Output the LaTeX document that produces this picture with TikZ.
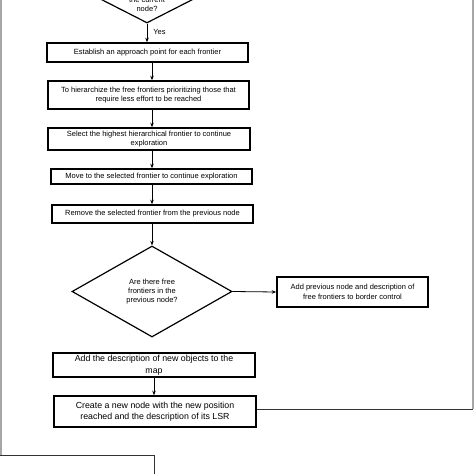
\documentclass[tikz,border=0pt]{standalone}
\usepackage{fontspec}
\setmainfont{Liberation Sans}
\usetikzlibrary{shapes.geometric,arrows.meta}
\begin{document}
\begin{tikzpicture}[x=1pt,y=-1pt,
  txt/.style={font=\fontsize{7.5}{9.5}\selectfont},
  bigtxt/.style={font=\fontsize{8.8}{11.5}\selectfont},
  box/.style={draw,line width=1.6pt,align=center,inner sep=0pt,txt},
  dia/.style={draw,diamond,line width=1.2pt,inner sep=0pt,align=center,txt},
  arr/.style={-{Stealth[length=4.5pt,width=3.5pt]},line width=0.8pt},
  link/.style={line width=0.8pt,color=black!80},
  frame/.style={line width=2pt,color=black!35}]
\useasboundingbox (0,0) rectangle (474,474);
\clip (0,0) rectangle (474,474);
% top decision (cut off)
\node[dia,minimum width=176pt,minimum height=90pt] (d0) at (147,-22) {};
\node[align=center,inner sep=0pt,font=\fontsize{7.5}{9}\selectfont] (d0t) at (147,4.5) {the current\\node?};
% boxes
\node[box,minimum width=201pt,minimum height=19pt] (b1) at (147.5,52.5) {Establish an approach point for each frontier};
\node[box,minimum width=201pt,minimum height=28pt] (b2) at (148.5,95) {To hierarchize the free frontiers prioritizing those that\\require less effort to be reached};
\node[box,minimum width=202pt,minimum height=22pt] (b3) at (149,139) {Select the highest hierarchical frontier to continue\\exploration};
\node[box,minimum width=201pt,minimum height=15pt] (b4) at (151.5,176.5) {Move to the selected frontier to continue exploration};
\node[box,minimum width=201pt,minimum height=18pt] (b5) at (152.5,214) {Remove the selected frontier from the previous node};
\node[dia,minimum width=160pt,minimum height=91pt,font=\fontsize{7.5}{9}\selectfont] (d2) at (152,291.5) {Are there free\\frontiers in the\\previous node?};
\node[box,minimum width=151pt,minimum height=30pt] (b6) at (352.5,292) {Add previous node and description of\\free frontiers to border control};
\node[box,bigtxt,minimum width=202pt,minimum height=24pt] (b7) at (154,365) {Add the description of new objects to the\\map};
\node[box,bigtxt,minimum width=202pt,minimum height=31pt] (b8) at (155,411.5) {Create a new node with the new position\\reached and the description of its LSR};
% arrows
\draw[arr] (d0.south) -- (b1.north -| d0.south) node[pos=0.45,right=6pt,txt,inner sep=0pt] (yes) {Yes};
\draw[arr] (b1.south -| 152,0) -- (b2.north -| 152,0);
\draw[arr] (b2.south -| 152,0) -- (b3.north -| 152,0);
\draw[arr] (b3.south -| 152,0) -- (b4.north -| 152,0);
\draw[arr] (b4.south -| 152,0) -- (b5.north -| 152,0);
\draw[arr] (b5.south -| 152,0) -- (d2.north);
\draw[arr] (d2.east) -- (b6.west);
\draw[arr] (b7.south -| 154,0) -- (b8.north -| 154,0);
% frame connectors
\coordinate (rtop) at (472.5,0);
\coordinate (rcorner) at (472.5,409);
\draw[link] (b8.east |- rcorner) -- (rcorner);
\draw[frame] (rcorner) -- (rtop);
\coordinate (ltop) at (1,0);
\coordinate (lcorner) at (1,455);
\coordinate (lend) at (154,455);
\coordinate (lbottom) at (154,474);
\draw[frame] (ltop) -- (lcorner);
\draw[link] (0,455) -- (lend) -- (lbottom);
\end{tikzpicture}
\end{document}
